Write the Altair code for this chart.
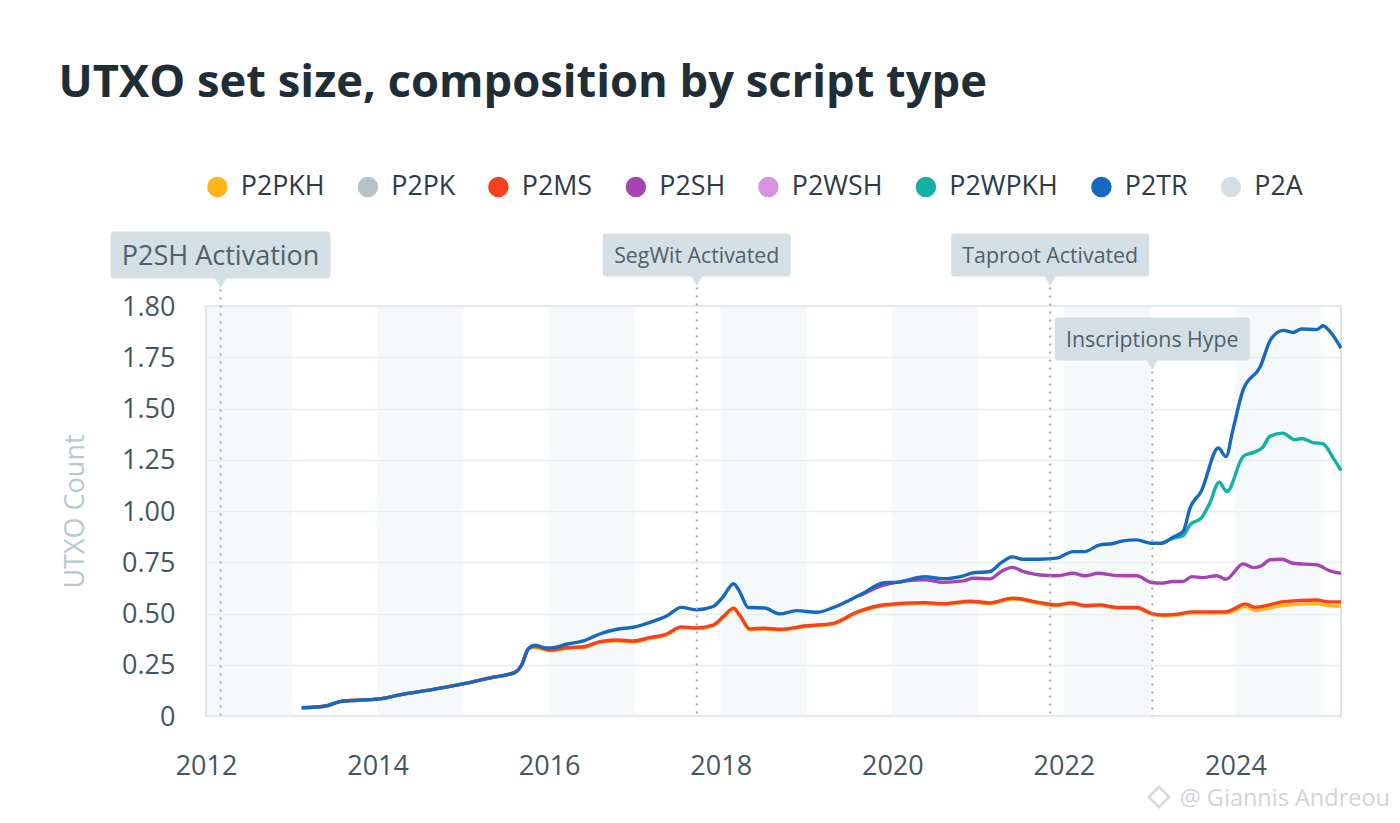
import altair as alt
import pandas as pd

FONT = "Open Sans"

series_names = ["P2PKH", "P2PK", "P2MS", "P2SH", "P2WSH", "P2WPKH", "P2TR", "P2A"]
series_colors = ["#fdb31a", "#b7c2c8", "#f4411e", "#a643b5", "#d991e2", "#13b1a5", "#1769bf", "#d5dfe5"]

early_years = [2013.115, 2013.41, 2013.56, 2013.76, 2014.05, 2014.26, 2014.65, 2015.04, 2015.31, 2015.6, 2015.68, 2015.76, 2015.83]
early_values = [0.04, 0.05, 0.07, 0.077, 0.085, 0.103, 0.13, 0.16, 0.186, 0.213, 0.25, 0.33, 0.345]

blue_years = early_years + [2015.97, 2016.07, 2016.2, 2016.4, 2016.59, 2016.79, 2016.98, 2017.21, 2017.37, 2017.54, 2017.72, 2017.91, 2018.03, 2018.15, 2018.22, 2018.32, 2018.51, 2018.69, 2018.88, 2019.12, 2019.31, 2019.62, 2019.91, 2020.05, 2020.38, 2020.59, 2020.83, 2020.94, 2021.14, 2021.27, 2021.4, 2021.52, 2021.72, 2021.91, 2022.11, 2022.24, 2022.42, 2022.56, 2022.69, 2022.85, 2023.02, 2023.14, 2023.27, 2023.39, 2023.47, 2023.6, 2023.8, 2023.89, 2023.97, 2024.09, 2024.29, 2024.41, 2024.56, 2024.67, 2024.77, 2024.95, 2025.02, 2025.1, 2025.23]
blue_values = early_values + [0.332, 0.335, 0.35, 0.366, 0.40, 0.423, 0.433, 0.462, 0.488, 0.53, 0.518, 0.534, 0.583, 0.645, 0.607, 0.529, 0.527, 0.498, 0.514, 0.506, 0.529, 0.59, 0.65, 0.652, 0.679, 0.67, 0.684, 0.698, 0.705, 0.748, 0.776, 0.765, 0.765, 0.77, 0.802, 0.802, 0.835, 0.84, 0.854, 0.859, 0.843, 0.843, 0.872, 0.90, 1.014, 1.095, 1.307, 1.266, 1.396, 1.592, 1.705, 1.836, 1.881, 1.871, 1.888, 1.885, 1.904, 1.876, 1.795]

teal_years = [2023.14, 2023.27, 2023.39, 2023.47, 2023.6, 2023.7, 2023.81, 2023.9, 2024.09, 2024.21, 2024.32, 2024.4, 2024.55, 2024.69, 2024.77, 2024.9, 2025.02, 2025.14, 2025.23]
teal_values = [0.843, 0.867, 0.879, 0.933, 0.965, 1.038, 1.141, 1.095, 1.266, 1.286, 1.312, 1.364, 1.38, 1.348, 1.354, 1.334, 1.328, 1.258, 1.198]

purple_years = [2019.62, 2019.91, 2020.38, 2020.59, 2020.83, 2020.94, 2021.14, 2021.27, 2021.4, 2021.52, 2021.72, 2021.91, 2022.11, 2022.24, 2022.4, 2022.61, 2022.85, 2023.02, 2023.14, 2023.27, 2023.39, 2023.49, 2023.62, 2023.78, 2023.89, 2024.09, 2024.21, 2024.31, 2024.4, 2024.54, 2024.67, 2024.95, 2025.1, 2025.23]
purple_values = [0.586, 0.64, 0.664, 0.652, 0.659, 0.672, 0.669, 0.705, 0.725, 0.706, 0.688, 0.684, 0.696, 0.684, 0.696, 0.685, 0.684, 0.651, 0.648, 0.656, 0.656, 0.68, 0.675, 0.684, 0.667, 0.742, 0.724, 0.734, 0.762, 0.765, 0.745, 0.737, 0.708, 0.696]

red_years = early_years[:-1] + [2015.83, 2016.01, 2016.2, 2016.4, 2016.59, 2016.79, 2016.98, 2017.17, 2017.37, 2017.54, 2017.72, 2017.91, 2018.03, 2018.15, 2018.22, 2018.34, 2018.51, 2018.69, 2019.0, 2019.31, 2019.58, 2019.91, 2020.38, 2020.59, 2020.91, 2021.14, 2021.4, 2021.72, 2021.91, 2022.09, 2022.24, 2022.42, 2022.61, 2022.85, 2023.02, 2023.16, 2023.35, 2023.49, 2023.88, 2024.0, 2024.11, 2024.23, 2024.4, 2024.56, 2024.95, 2025.06, 2025.23]
red_values = early_values[:-1] + [0.34, 0.322, 0.333, 0.338, 0.363, 0.371, 0.366, 0.382, 0.40, 0.435, 0.43, 0.443, 0.485, 0.526, 0.493, 0.425, 0.428, 0.423, 0.44, 0.452, 0.506, 0.543, 0.553, 0.548, 0.56, 0.552, 0.575, 0.553, 0.542, 0.552, 0.539, 0.542, 0.53, 0.529, 0.501, 0.493, 0.498, 0.508, 0.508, 0.526, 0.547, 0.53, 0.542, 0.558, 0.566, 0.558, 0.556]

orange_years = red_years
orange_values = [0.04, 0.05, 0.07, 0.077, 0.085, 0.103, 0.13, 0.16, 0.184, 0.21, 0.247, 0.327, 0.335, 0.318, 0.329, 0.334, 0.359, 0.367, 0.362, 0.378, 0.396, 0.431, 0.426, 0.439, 0.481, 0.522, 0.489, 0.421, 0.424, 0.419, 0.436, 0.448, 0.502, 0.539, 0.549, 0.544, 0.556, 0.548, 0.571, 0.549, 0.538, 0.548, 0.535, 0.538, 0.526, 0.525, 0.497, 0.489, 0.494, 0.503, 0.502, 0.516, 0.535, 0.515, 0.527, 0.54, 0.548, 0.54, 0.536]

band_starts = [2012, 2014, 2016, 2018, 2020, 2022, 2024]
band_ends = [2013, 2015, 2017, 2019, 2021, 2023, 2025]

event_names = ["P2SH Activation", "SegWit Activated", "Taproot Activated", "Inscriptions Hype"]
event_years = [2012.17, 2017.72, 2021.84, 2023.03]

x_ticks = [2012, 2014, 2016, 2018, 2020, 2022, 2024]
y_ticks = [0, 0.25, 0.5, 0.75, 1.0, 1.25, 1.5, 1.75, 2.0]
watermark = "@ Giannis Andreou"
title_text = "UTXO set size, composition by script type"

X_DOMAIN = [2012, 2025.23]
Y_DOMAIN = [0, 2]

x_scale = alt.Scale(domain=X_DOMAIN, nice=False, zero=False)
y_scale = alt.Scale(domain=Y_DOMAIN, nice=False)

rows = []
for name, ys, vs in [
    ("P2PKH", orange_years, orange_values),
    ("P2MS", red_years, red_values),
    ("P2SH", purple_years, purple_values),
    ("P2WPKH", teal_years, teal_values),
    ("P2TR", blue_years, blue_values),
]:
    for y, v in zip(ys, vs):
        rows.append({"series": name, "year": y, "value": v, "rank": series_names.index(name)})
lines_df = pd.DataFrame(rows)

bands_df = pd.DataFrame({"start": band_starts, "end": band_ends})
bands = alt.Chart(bands_df).mark_rect(fill="#e8f0f2", opacity=0.42).encode(
    x=alt.X("start:Q", scale=x_scale,
            axis=alt.Axis(values=x_ticks, format="d", title=None, grid=False, domain=False,
                          ticks=False, labelPadding=37, labelFontSize=27, labelColor="#44565f",
                          labelFont=FONT, labelFlush=False)),
    x2="end:Q",
    y=alt.value(0),
    y2=alt.value(410),
)

lines = alt.Chart(lines_df).mark_line(strokeWidth=3.4, interpolate="monotone").encode(
    x=alt.X("year:Q", scale=x_scale),
    y=alt.Y("value:Q", scale=y_scale,
            axis=alt.Axis(values=y_ticks, title="UTXO Count", titleFontSize=27, titleColor="#b9c8cf",
                          titleFontWeight="normal", titleFont=FONT, titlePadding=32,
                          labelFontSize=27, labelColor="#44565f", labelFont=FONT, labelPadding=31,
                          labelOffset=1, domain=False, ticks=False, gridColor="#e6eef0", gridWidth=1.5,
                          labelExpr="datum.value == 2 ? '1.80' : datum.value == 0 ? '0' : format(datum.value, '.2f')")),
    color=alt.Color("series:N", scale=alt.Scale(domain=series_names, range=series_colors),
                    legend=alt.Legend(
                        orient="none", legendX=-2, legendY=-136, direction="horizontal", columns=8,
                        title=None, symbolType="circle", symbolSize=110, symbolStrokeWidth=10,
                        labelFontSize=26.8, labelColor="#2c3c46", labelFont=FONT, labelOffset=10,
                        columnPadding=29.5, gridAlign="each", symbolOpacity=1, clipHeight=34)),
    order=alt.Order("rank:Q"),
    detail="series:N",
)


def callout(name, year, center_y, box_w, box_h, font_size):
    d = pd.DataFrame({"name": [name], "year": [year]})
    base = alt.Chart(d)
    rule = base.mark_rule(stroke="#97abb3", strokeWidth=2, strokeDash=[2, 6]).encode(
        x=alt.X("year:Q", scale=x_scale),
        y=alt.value(center_y + box_h / 2 + 11),
        y2=alt.value(410),
    )
    box = base.mark_rect(fill="#d4dfe6", cornerRadius=3, width=box_w, height=box_h).encode(
        x=alt.X("year:Q", scale=x_scale),
        y=alt.value(center_y),
    )
    arrow = base.mark_point(shape="triangle-down", filled=True, fill="#d4dfe6", opacity=1, size=300).encode(
        x=alt.X("year:Q", scale=x_scale),
        y=alt.value(center_y + box_h / 2 + 2),
    )
    text = base.mark_text(font=FONT, fontSize=font_size, color="#50616b", align="center", baseline="middle", dy=1.5).encode(
        x=alt.X("year:Q", scale=x_scale),
        y=alt.value(center_y),
        text="name:N",
    )
    return [rule, box, arrow, text]


callouts = []
for name, year, cy, w, h, fs in zip(event_names, event_years, [-51, -51, -51, 33], [220, 188, 198, 195], [47, 43, 43, 43], [27, 21.3, 21.3, 21.3]):
    callouts += callout(name, year, cy, w, h, fs)

mark = alt.Chart(pd.DataFrame({"t": [watermark]})).mark_text(
    font=FONT, fontSize=23.5, color="#cfd5da", align="right", baseline="middle"
).encode(x=alt.value(1184), y=alt.value(493), text="t:N")

logo = alt.Chart(pd.DataFrame({"t": [watermark]})).mark_point(
    shape="diamond", filled=False, stroke="#d5dade", strokeWidth=2.5, size=420, opacity=1
).encode(x=alt.value(953), y=alt.value(491))

chart = alt.layer(bands, lines, *callouts, mark, logo).properties(
    width=1135,
    height=410,
    autosize=alt.AutoSizeParams(type="none"),
    padding={"left": 198, "top": 298, "right": 51, "bottom": 98},
    title=alt.TitleParams(title_text, anchor="start", dx=-3, offset=64, font=FONT,
                          fontSize=45.3, fontWeight="bold", color="#1f2d36"),
).resolve_scale(x="shared", y="shared").configure_view(stroke="#cddce2", strokeWidth=1.5)

chart.save("out.html", embed_options={"renderer": "svg", "actions": False})
